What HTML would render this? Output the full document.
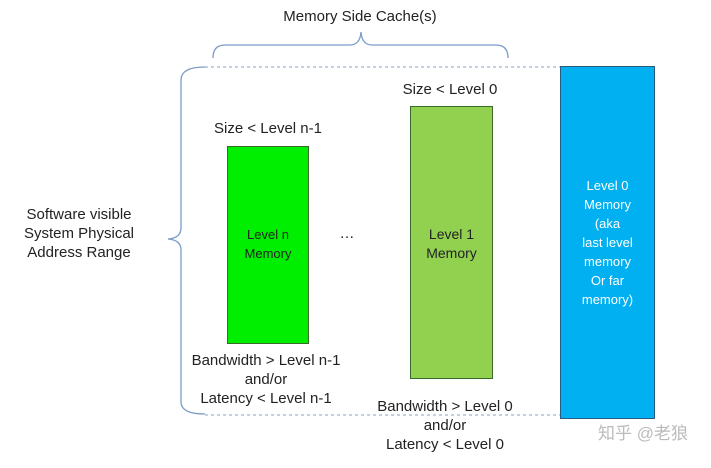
<!DOCTYPE html>
<html><head><style>
body{margin:0;width:711px;height:468px;background:#fff;position:relative;overflow:hidden;font-family:"Liberation Sans","Noto Sans CJK SC",sans-serif;color:#222}
.t{position:absolute;text-align:center;font-size:15px;line-height:19px;white-space:nowrap}
.b{position:absolute;border:1px solid #3a6a2a}
</style></head><body>
<svg width="711" height="468" style="position:absolute;left:0;top:0">
<path d="M213,58 Q213,45 225,45 L350,45 Q360,45 361,32 Q362,45 372,45 L496,45 Q508,45 508,58" fill="none" stroke="#7a9cc6" stroke-width="1.3"/>
<path d="M205,67 Q181,67 181,80 L181,228 Q181,238 168,239 Q181,240 181,250 L181,402 Q181,414 205,414" fill="none" stroke="#7a9cc6" stroke-width="1.3"/>
<line x1="205" y1="67" x2="560" y2="67" stroke="#9fb5d3" stroke-width="1.2" stroke-dasharray="3,3"/>
<line x1="205" y1="415" x2="560" y2="415" stroke="#9fb5d3" stroke-width="1.2" stroke-dasharray="3,3"/>
</svg>
<div class="b" style="left:227px;top:146px;width:80px;height:196px;background:#00ee00"></div>
<div class="b" style="left:410px;top:106px;width:81px;height:271px;background:#92d050"></div>
<div class="b" style="left:560px;top:66px;width:93px;height:351px;background:#00b0f0;border-color:#2a5a80"></div>
<div class="t" style="left:255px;top:7px;width:210px;font-size:15px">Memory Side Cache(s)</div>
<div class="t" style="left:380px;top:80px;width:140px">Size &lt; Level 0</div>
<div class="t" style="left:198px;top:119px;width:140px">Size &lt; Level n-1</div>
<div class="t" style="left:4px;top:205px;width:150px">Software visible<br>System Physical<br>Address Range</div>
<div class="t" style="left:227px;top:225px;width:82px;font-size:13px">Level n<br>Memory</div>
<div class="t" style="left:327px;top:224px;width:40px">…</div>
<div class="t" style="left:410px;top:225px;width:83px;font-size:14px">Level 1<br>Memory</div>
<div class="t" style="left:560px;top:176px;width:95px;color:#fff;font-size:13px">Level 0<br>Memory<br>(aka<br>last level<br>memory<br>Or far<br>memory)</div>
<div class="t" style="left:176px;top:351px;width:180px">Bandwidth &gt; Level n-1<br>and/or<br>Latency &lt; Level n-1</div>
<div class="t" style="left:355px;top:397px;width:180px">Bandwidth &gt; Level 0<br>and/or<br>Latency &lt; Level 0</div>
<div class="t" style="left:578px;top:424px;width:130px;font-size:17px;color:#bbb">知乎 @老狼</div>
</body></html>
